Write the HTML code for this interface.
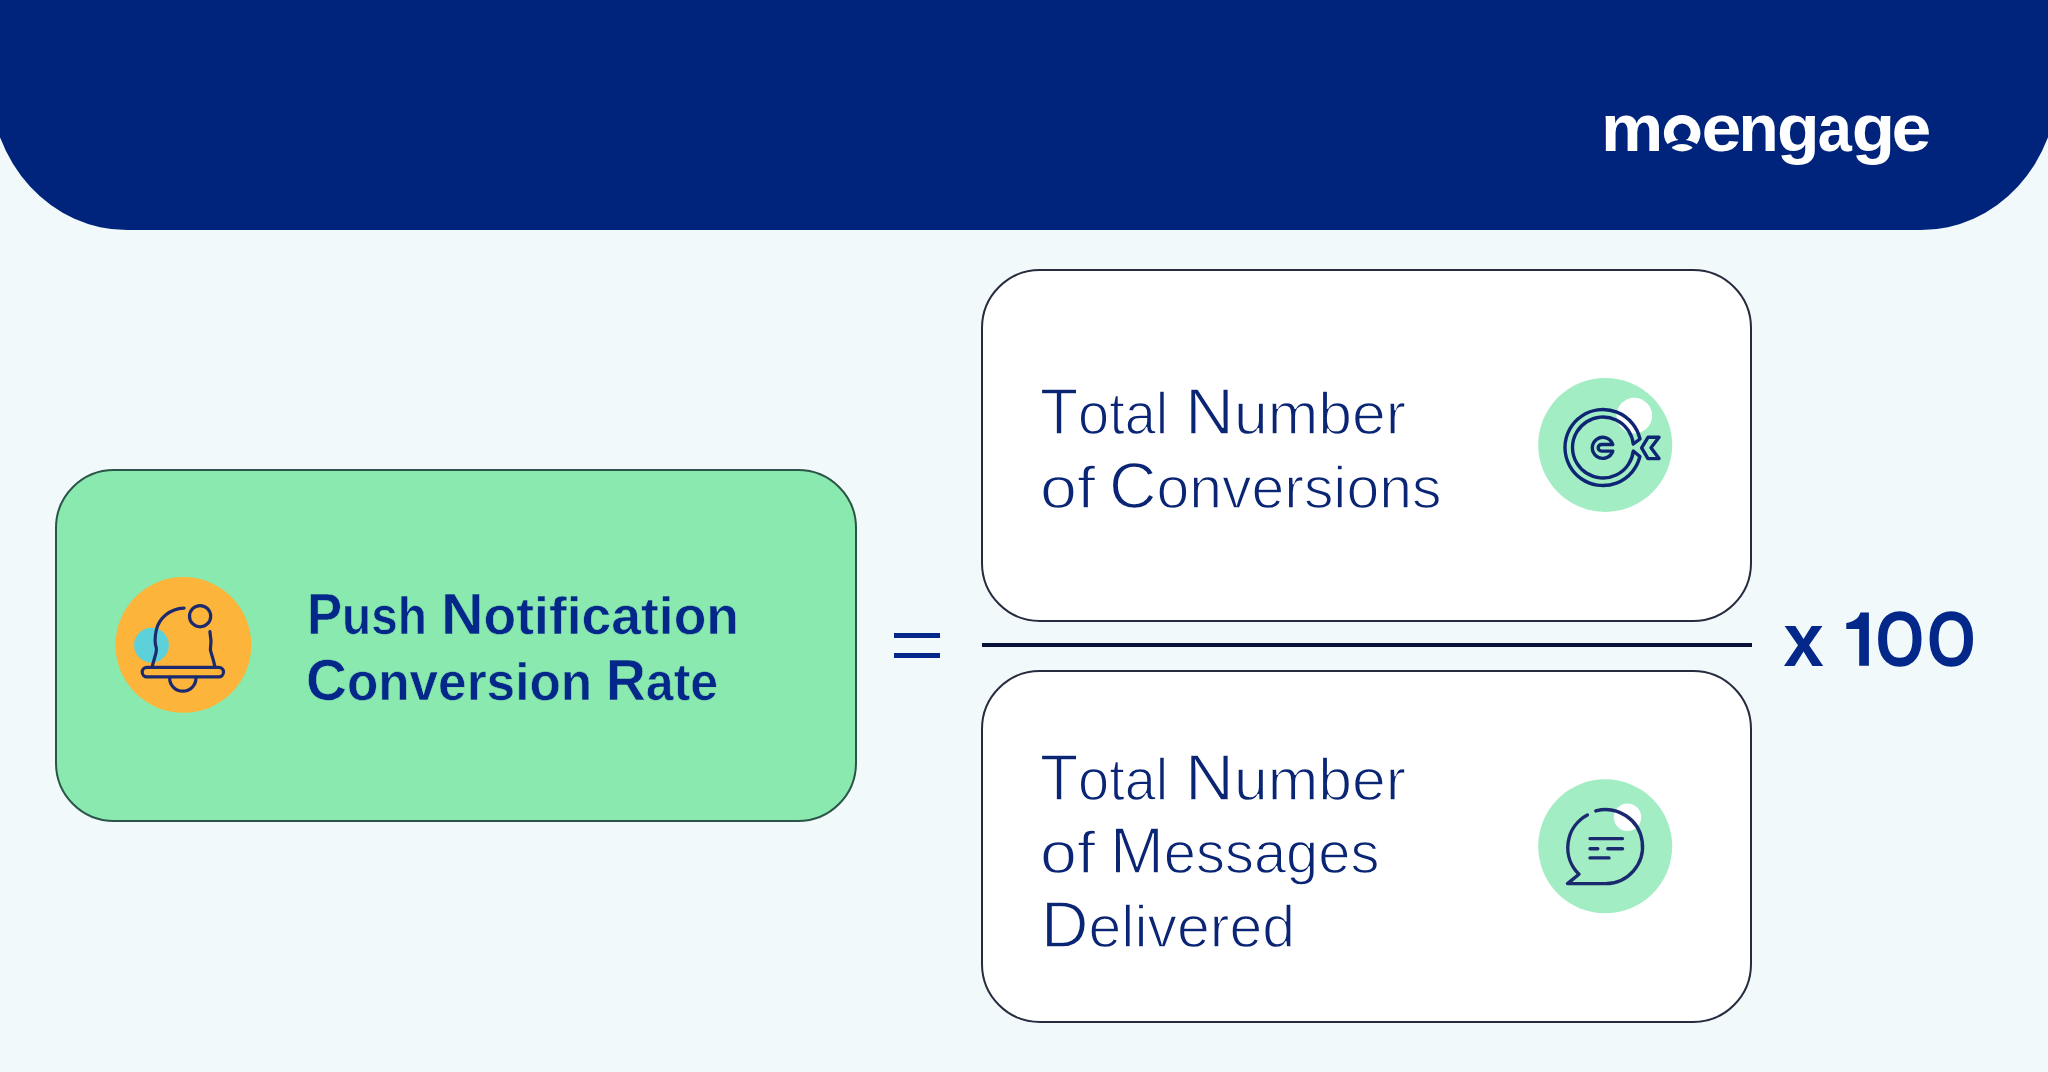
<!DOCTYPE html>
<html>
<head>
<meta charset="utf-8">
<style>
html,body{margin:0;padding:0;}
body{width:2048px;height:1072px;overflow:hidden;position:relative;background:#F1F9FB;font-family:"Liberation Sans",sans-serif;}
.hdr{position:absolute;left:-10.1px;top:-20px;width:2068.1px;height:249.9px;background:#00247B;border-bottom-left-radius:136.8px 148.6px;border-bottom-right-radius:136.8px 148.6px;}
.box{position:absolute;box-sizing:border-box;border:2px solid #262B3E;border-radius:59px;}
.green{left:55.3px;top:468.8px;width:802px;height:352.8px;background:#89E9AE;border-color:#2A5548;}
.w1{left:980.7px;top:268.8px;width:771.3px;height:352.8px;background:#fff;}
.w2{left:980.7px;top:670.3px;width:771.3px;height:353px;background:#fff;}
.t{position:absolute;white-space:nowrap;line-height:1;color:#03288A;transform-origin:0 0;}
.b{font-weight:bold;}
.lt{font-size:66px;-webkit-text-stroke:1.7px #fff;}
.line{position:absolute;background:#081236;}
svg{position:absolute;left:0;top:0;}
</style>
</head>
<body>
<div class="hdr"></div>

<div class="box green"></div>
<div class="box w1"></div>
<div class="box w2"></div>

<!-- title text -->
<div style="position:absolute;white-space:nowrap;line-height:1;transform-origin:0 0;font-family:'Liberation Sans';font-weight:bold;font-size:52.2px;color:#03288A;-webkit-text-stroke:0.6px #89E9AE;left:306.94px;top:585.95px;transform:scaleX(0.9138);"><span style="font-size:57.6px">P</span>ush</div>
<div style="position:absolute;white-space:nowrap;line-height:1;transform-origin:0 0;font-family:'Liberation Sans';font-weight:bold;font-size:52.2px;color:#03288A;-webkit-text-stroke:0.6px #89E9AE;left:440.70px;top:585.95px;transform:scaleX(1.0244);"><span style="font-size:57.6px">N</span>otification</div>
<div style="position:absolute;white-space:nowrap;line-height:1;transform-origin:0 0;font-family:'Liberation Sans';font-weight:bold;font-size:52.2px;color:#03288A;-webkit-text-stroke:0.6px #89E9AE;left:306.05px;top:652.00px;transform:scaleX(0.9831);"><span style="font-size:57.6px">C</span>onversion</div>
<div style="position:absolute;white-space:nowrap;line-height:1;transform-origin:0 0;font-family:'Liberation Sans';font-weight:bold;font-size:52.2px;color:#03288A;-webkit-text-stroke:0.6px #89E9AE;left:606.17px;top:652.00px;transform:scaleX(0.9577);"><span style="font-size:57.6px">R</span>ate</div>

<!-- box text -->
<div style="position:absolute;white-space:nowrap;line-height:1;transform-origin:0 0;font-family:'Liberation Sans';font-weight:normal;font-size:58.6px;color:#0A2574;-webkit-text-stroke:1.4px #fff;left:1040.29px;top:379.40px;transform:scaleX(0.9539);"><span style="font-size:65.4px">T</span>otal</div>
<div style="position:absolute;white-space:nowrap;line-height:1;transform-origin:0 0;font-family:'Liberation Sans';font-weight:normal;font-size:58.6px;color:#0A2574;-webkit-text-stroke:1.4px #fff;left:1185.18px;top:379.40px;transform:scaleX(1.0359);"><span style="font-size:65.4px">N</span>umber</div>
<div style="position:absolute;white-space:nowrap;line-height:1;transform-origin:0 0;font-family:'Liberation Sans';font-weight:normal;font-size:58.6px;color:#0A2574;-webkit-text-stroke:1.4px #fff;left:1039.60px;top:459.30px;transform:scaleX(1.1333);">of</div>
<div style="position:absolute;white-space:nowrap;line-height:1;transform-origin:0 0;font-family:'Liberation Sans';font-weight:normal;font-size:58.6px;color:#0A2574;-webkit-text-stroke:1.4px #fff;left:1108.58px;top:453.30px;transform:scaleX(1.0056);"><span style="font-size:65.4px">C</span>onversions</div>
<div style="position:absolute;white-space:nowrap;line-height:1;transform-origin:0 0;font-family:'Liberation Sans';font-weight:normal;font-size:58.6px;color:#0A2574;-webkit-text-stroke:1.4px #fff;left:1040.29px;top:745.20px;transform:scaleX(0.9539);"><span style="font-size:65.4px">T</span>otal</div>
<div style="position:absolute;white-space:nowrap;line-height:1;transform-origin:0 0;font-family:'Liberation Sans';font-weight:normal;font-size:58.6px;color:#0A2574;-webkit-text-stroke:1.4px #fff;left:1185.18px;top:745.20px;transform:scaleX(1.0359);"><span style="font-size:65.4px">N</span>umber</div>
<div style="position:absolute;white-space:nowrap;line-height:1;transform-origin:0 0;font-family:'Liberation Sans';font-weight:normal;font-size:58.6px;color:#0A2574;-webkit-text-stroke:1.4px #fff;left:1039.60px;top:824.30px;transform:scaleX(1.1333);">of</div>
<div style="position:absolute;white-space:nowrap;line-height:1;transform-origin:0 0;font-family:'Liberation Sans';font-weight:normal;font-size:58.6px;color:#0A2574;-webkit-text-stroke:1.4px #fff;left:1109.67px;top:818.30px;transform:scaleX(0.9879);"><span style="font-size:65.4px">M</span>essages</div>
<div style="position:absolute;white-space:nowrap;line-height:1;transform-origin:0 0;font-family:'Liberation Sans';font-weight:normal;font-size:58.6px;color:#0A2574;-webkit-text-stroke:1.4px #fff;left:1040.76px;top:892.20px;transform:scaleX(1.0062);"><span style="font-size:65.4px">D</span>elivered</div>

<!-- equals -->
<div class="line" style="left:894.3px;top:633.1px;width:46px;height:5.1px;background:#03288A;"></div>
<div class="line" style="left:894.3px;top:652.8px;width:46px;height:5.1px;background:#03288A;"></div>
<!-- fraction line -->
<div class="line" style="left:981.7px;top:643.4px;width:770px;height:3.6px;"></div>

<svg width="2048" height="1072" viewBox="0 0 2048 1072">
  <defs>
    <clipPath id="oc"><circle cx="1682.15" cy="133.2" r="18.25"/></clipPath>
  </defs>
  <!-- logo -->
  <g fill="#fff" font-family="Liberation Sans" font-weight="bold" font-size="66.7">
    <text transform="translate(1600.98 150.6) scale(1.05 1)">m</text>
    <text transform="translate(1701.6 150.6) scale(1.074 1)">e</text>
    <text transform="translate(1738.46 150.6) scale(0.987 1)">n</text>
    <text transform="translate(1777.04 150.6) scale(1.046 1)">g</text>
    <text transform="translate(1817.7 150.6) scale(0.919 1)">a</text>
    <text transform="translate(1851.69 150.6) scale(1.064 1)">g</text>
    <text transform="translate(1891.4 150.6) scale(1.074 1)">e</text>
  </g>
  <circle cx="1682.15" cy="133.2" r="18.25" fill="#fff"/>
  <circle cx="1682.1" cy="132.1" r="8.6" fill="#00247B"/>
  <ellipse cx="1682.1" cy="152" rx="18.6" ry="12.2" fill="#00247B"/>
  <g clip-path="url(#oc)">
    <ellipse cx="1682.1" cy="152" rx="12.1" ry="8" fill="#fff"/>
  </g>

  <!-- x 100 -->
  <g fill="#03288A">
    <text font-family="Liberation Sans" font-weight="bold" font-size="75.2" transform="translate(1783.51 665.7) scale(0.962 1)">x</text>
    <path d="M1846.3,622.9 C1853,622.2 1859.2,618.5 1860.3,612.6 L1868.9,612.6 L1868.9,665.7 L1859.2,665.7 L1859.2,628.9 L1846.3,628.9 Z"/>
  </g>
  <g fill="none" stroke="#03288A" stroke-width="9">
    <path d="M1899.80,615.65 C1910.81,615.65 1917.00,624.04 1917.00,638.95 C1917.00,653.86 1910.81,662.25 1899.80,662.25 C1888.79,662.25 1882.60,653.86 1882.60,638.95 C1882.60,624.04 1888.79,615.65 1899.80,615.65 Z"/>
    <path d="M1951.30,615.65 C1962.31,615.65 1968.50,624.04 1968.50,638.95 C1968.50,653.86 1962.31,662.25 1951.30,662.25 C1940.29,662.25 1934.10,653.86 1934.10,638.95 C1934.10,624.04 1940.29,615.65 1951.30,615.65 Z"/>
  </g>

  <!-- bell icon -->
  <circle cx="183.4" cy="644.9" r="67.9" fill="#FDB43B"/>
  <circle cx="151.5" cy="645.2" r="17.4" fill="#5CD1DA"/>
  <g fill="none" stroke="#1B2A6E" stroke-width="3.2" stroke-linecap="round" stroke-linejoin="round">
    <path d="M184.0,608.1 C170,608.6 159,618 156.3,630 C154.8,637 154.8,643.5 156.2,647.5 C157.5,651.5 153.8,659 152.3,666.5"/>
    <path d="M209.9,631.6 C210.8,636 211.3,644 210.4,649.7 C211,653 213.9,661 214.8,666.5"/>
    <circle cx="200.1" cy="616.2" r="10.6"/>
    <rect x="142.2" y="667.3" width="81.3" height="9.6" rx="4.8"/>
    <path d="M169.6,678 A13.2 13.2 0 0 0 196,678"/>
  </g>

  <!-- target icon -->
  <circle cx="1605.2" cy="444.9" r="67" fill="#A2EDC4"/>
  <circle cx="1634.3" cy="415.6" r="17.8" fill="#fff"/>
  <g fill="none" stroke="#0E2573" stroke-width="3.4" stroke-linejoin="round">
    <path d="M1640,439 A38 38 0 1 0 1639.9,456.5 L1633.3,451 A30.5 30.5 0 1 1 1633.3,444 Z"/>
    <path d="M1648,437.3 L1659,437.3 L1651,447.8 L1659,458.6 L1648,458.6 L1641.6,447.8 Z"/>
    <path d="M1612.8,444.5 A10.5 10.5 0 1 0 1612.8,451.1 L1601.5,451.1 A3.3 3.3 0 0 1 1601.5,444.5 Z"/>
  </g>

  <!-- chat icon -->
  <circle cx="1605.2" cy="846.3" r="67" fill="#A2EDC4"/>
  <circle cx="1627.5" cy="817.2" r="13.7" fill="#fff"/>
  <g fill="none" stroke="#1B2A6E" stroke-width="3.4" stroke-linecap="round" stroke-linejoin="round">
    <path d="M1595.8,810.9 A37 37 0 1 1 1605.4,883.6 L1567.5,883.6 L1579,874.2 A37 37 0 0 1 1587.4,815"/>
    <path d="M1590,838.6 H1622.5 M1590,848.8 H1597.8 M1607.8,848.8 H1622.5 M1590,857.9 H1609"/>
  </g>
</svg>
</body>
</html>
